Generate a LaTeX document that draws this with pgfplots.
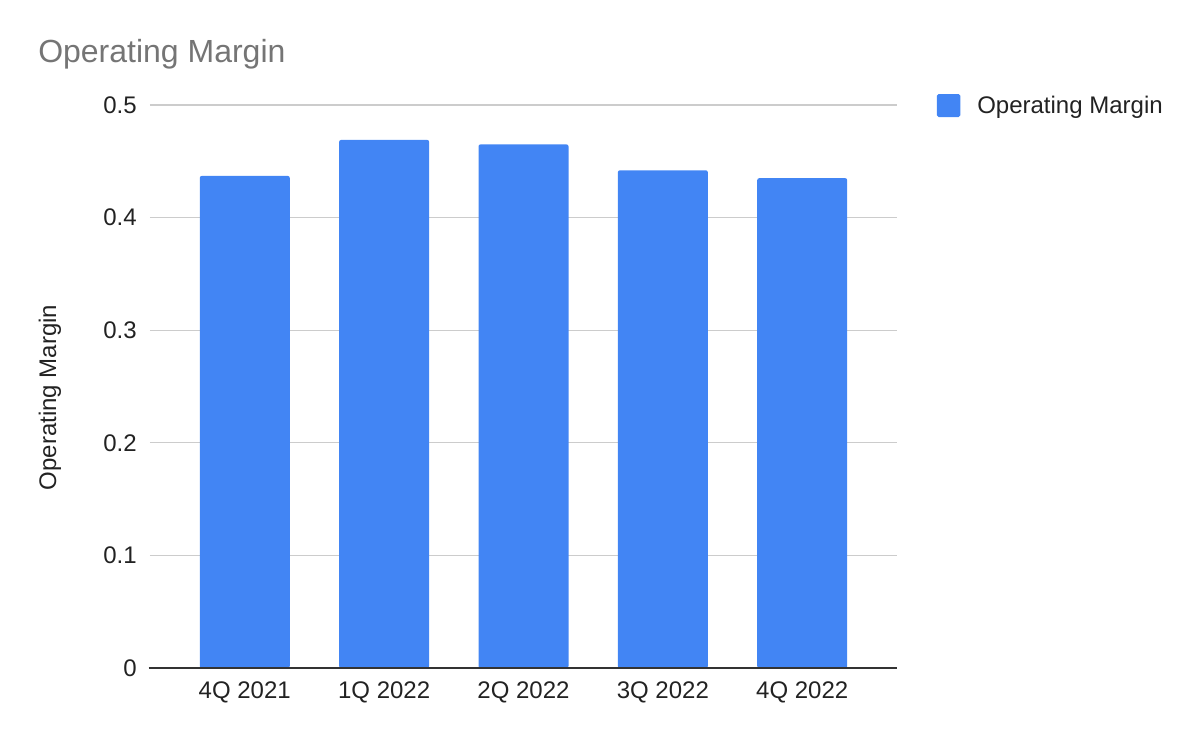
\documentclass[border=0pt]{standalone}
\usepackage{pgfplots}
\pgfplotsset{compat=1.18}
\usepackage{fontspec}
\setmainfont{Liberation Sans}
\definecolor{barblue}{HTML}{4285F4}
\definecolor{gridgray}{HTML}{CCCCCC}
\definecolor{titlegray}{HTML}{757575}
\definecolor{textdark}{HTML}{222222}
\definecolor{axisdark}{HTML}{333333}
\begin{document}
\begin{tikzpicture}
% page: 1200 x 742 px, axis box lower-left at image (150,668); 1px = 0.75pt
\path (-112.5pt,-55.5pt) rectangle (787.5pt,501pt);
\node[anchor=base west, text=titlegray, font=\fontsize{24}{28}\selectfont, inner sep=0] at (-84pt,453.75pt) {Operating Margin};
\begin{axis}[
  scale only axis,
  width=560.25pt, height=422.25pt,
  xmin=-0.68, xmax=4.68,
  ymin=0, ymax=0.5,
  ytick={0,0.1,0.2,0.3,0.4,0.5},
  yticklabels={0,0.1,0.2,0.3,0.4,0.5},
  xtick={0,1,2,3,4},
  xticklabels={4Q 2021,1Q 2022,2Q 2022,3Q 2022,4Q 2022},
  tick style={draw=none},
  ymajorgrids, grid style={gridgray, line width=0.9pt},
  axis line style={draw=none},
  ticklabel style={font=\fontsize{18}{21}\selectfont, text=textdark, inner sep=0pt},
  yticklabel style={anchor=east, xshift=-9.75pt},
  xticklabel style={anchor=base, yshift=-23.25pt},
  ylabel={Operating Margin},
  every axis y label/.style={at={(axis description cs:-0.1339,0.4805)}, rotate=90, anchor=center,
    font=\fontsize{18}{21}\selectfont, text=textdark, inner sep=0pt},
  clip=false,
  legend style={at={(axis description cs:1.0535,1.0195)}, anchor=north west, draw=none, fill=none,
    font=\fontsize{18}{21}\selectfont, text=textdark, inner sep=0pt, outer sep=0pt,
    nodes={inner sep=0pt},
    /tikz/every odd column/.append style={column sep=12.75pt}},
  legend image code/.code={\fill[#1, rounded corners=1.2pt] (0pt,-3.75pt) rectangle (17.5pt,13.5pt);},
]
\addplot[ybar, bar width=67.5pt, fill=barblue, draw=none, rounded corners=1.5pt] coordinates {
  (0,0.437) (1,0.469) (2,0.465) (3,0.442) (4,0.435)
};
\addlegendentry{\raisebox{9pt}{Operating Margin}}
\draw[axisdark, line width=1.1pt] (axis cs:-0.69,0) -- (axis cs:4.68,0);
\end{axis}
\end{tikzpicture}
\end{document}
